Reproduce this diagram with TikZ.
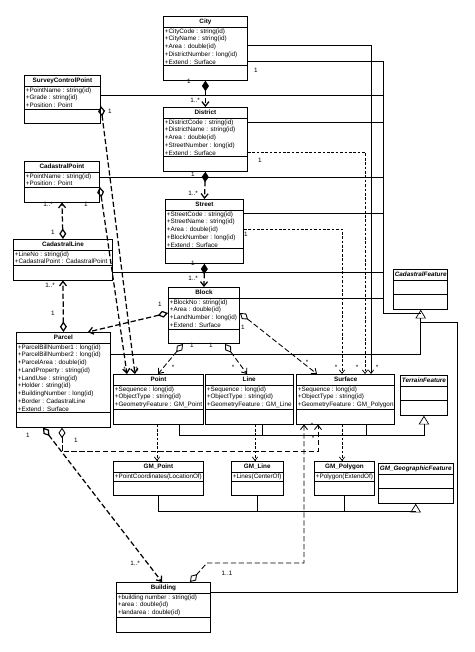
\documentclass[tikz,border=0pt]{standalone}
\usepackage{fontspec}
\setmainfont{Liberation Sans}
\usetikzlibrary{shapes.multipart,arrows.meta}

\newcommand{\clsname}[1]{\strut\textbf{#1}}
\newcommand{\absname}[1]{\strut\textbf{\textit{#1}}}

\begin{document}
\begin{tikzpicture}[x=0.02cm, y=-0.02cm,
    every node/.style={font=\fontsize{3.6}{4.4}\selectfont},
    class node/.style={rectangle split, rectangle split parts=3, draw, fill=white,
      line width=0.5pt, anchor=north west, align=left,
      rectangle split part align={center,left,left},
      inner xsep=0.8pt, inner ysep=0.6pt, minimum width=#1*0.02cm,
      rectangle split empty part height=3.1pt, rectangle split empty part depth=1.3pt},
    mult/.style={inner sep=0pt},
    comp/.style={line width=0.7pt, dash pattern=on 3pt off 1.5pt,
      {Diamond[length=6pt,width=4pt]}-{Straight Barb[length=2.5pt,width=4pt]}},
    aggr/.style={line width=0.7pt, dash pattern=on 3pt off 1.5pt,
      {Diamond[open,length=6pt,width=4pt]}-{Straight Barb[length=2.5pt,width=4pt]}},
    dep/.style={line width=0.4pt, dash pattern=on 1.5pt off 1pt,
      -{Straight Barb[length=2pt,width=3pt]}},
    assoc/.style={line width=0.4pt, -{Straight Barb[length=2pt,width=3pt]}},
    gen/.style={line width=0.4pt},
    super/.style={-{Triangle[open,length=5pt,width=6pt]}}]

  \useasboundingbox (0,0) rectangle (474,652);

  % classes of the cadastre
  \node[class node=84] (City) at (163,16) {\clsname{City}\nodepart{two}+CityCode : string(id)\\+CityName : string(id)\\+Area : double(id)\\+DistrictNumber : long(id)\\+Extend : Surface};
  \node[class node=84] (District) at (163,107) {\clsname{District}\nodepart{two}+DistrictCode : string(id)\\+DistrictName : string(id)\\+Area : double(id)\\+StreetNumber : long(id)\\+Extend : Surface};
  \node[class node=78] (Street) at (165,199) {\clsname{Street}\nodepart{two}+StreetCode : string(id)\\+StreetName : string(id)\\+Area : double(id)\\+BlockNumber : long(id)\\+Extend : Surface};
  \node[class node=71] (Block) at (168,287) {\clsname{Block}\nodepart{two}+BlockNo : string(id)\\+Area : double(id)\\+LandNumber : long(id)\\+Extend : Surface};
  \node[class node=76] (SurveyControlPoint) at (24,75) {\clsname{SurveyControlPoint}\nodepart{two}+PointName : string(id)\\+Grade : string(id)\\+Position : Point};
  \node[class node=75] (CadastralPoint) at (24,161) {\clsname{CadastralPoint}\nodepart{two}+PointName : string(id)\\+Position : Point};
  \node[class node=99] (CadastralLine) at (13,239) {\clsname{CadastralLine}\nodepart{two}+LineNo : string(id)\\+CadastralPoint : CadastralPoint};
  \node[class node=94] (Parcel) at (16,332) {\clsname{Parcel}\nodepart{two}+ParcelBillNumber1 : long(id)\\+ParcelBillNumber2 : long(id)\\+ParcelArea : double(id)\\+LandProperty : string(id)\\+LandUse : string(id)\\+Holder : string(id)\\+BuildingNumber : long(id)\\+Border : CadastralLine\\+Extend : Surface};
  \node[class node=94] (Building) at (116,582) {\clsname{Building}\nodepart{two}+building number : string(id)\\+area : double(id)\\+landarea : double(id)};

  % terrain objects
  \node[class node=89] (Point) at (113,374) {\clsname{Point}\nodepart{two}+Sequence : long(id)\\+ObjectType : string(id)\\+GeometryFeature : GM\_Point};
  \node[class node=65] (Line) at (205,374) {\clsname{Line}\nodepart{two}+Sequence : long(id)\\+ObjectType : string(id)\\+GeometryFeature : GM\_Line};
  \node[class node=93] (Surface) at (296,374) {\clsname{Surface}\nodepart{two}+Sequence : long(id)\\+ObjectType : string(id)\\+GeometryFeature : GM\_Polygon};

  % geometry
  \node[class node=90] (GMPoint) at (113,461) {\clsname{GM\_Point}\nodepart{two}+PointCoordinates(LocationOf)};
  \node[class node=49] (GMLine) at (231,461) {\clsname{GM\_Line}\nodepart{two}+Lines(CenterOf)};
  \node[class node=57] (GMPolygon) at (314,461) {\clsname{GM\_Polygon}\nodepart{two}+Polygon(ExtendOf)};

  % abstract classes
  \node[class node=54] (CadastralFeature) at (393,269) {\absname{CadastralFeature}};
  \node[class node=47] (TerrainFeature) at (400,375) {\absname{TerrainFeature}};
  \node[class node=69] (GMFeature) at (378,463) {\absname{GM\_GeographicFeature}};

  \coordinate (cfTrunk) at (383,313);
  \coordinate (cfRight) at (457,322);
  \coordinate (tfBus) at (0,435);
  \coordinate (gmBus) at (0,511);

  % generalisation
  \draw[gen] (City.east |- 0,61) -| (cfTrunk) -- (CadastralFeature.south |- cfTrunk);
  \draw[gen] (SurveyControlPoint.east |- 0,95) -- (cfTrunk |- 0,95);
  \draw[gen] (District.east |- 0,122) -- (cfTrunk |- 0,122);
  \draw[gen] (CadastralPoint.east |- 0,177) -- (cfTrunk |- 0,177);
  \draw[gen] (Street.east |- 0,213) -- (cfTrunk |- 0,213);
  \draw[gen] (CadastralLine.east |- 0,272) -- (cfTrunk |- 0,272);
  \draw[gen] (Block.east |- 0,298) -- (cfTrunk |- 0,298);
  \draw[gen,super] (Parcel.east |- 0,354) -| (CadastralFeature.south);
  \draw[gen] (Building.east |- 0,592) -| (cfRight) -- (CadastralFeature.south |- cfRight);

  \draw[gen,super] (Point.south -| 179,0) |- (tfBus -| TerrainFeature.south) -- (TerrainFeature.south);
  \draw[gen] (Line.south -| 262,0) -- (tfBus -| 262,0);
  \draw[gen] (Surface.south -| 366,0) -- (tfBus -| 366,0);

  \draw[gen,super] (GMPoint.south) |- (gmBus -| GMFeature.south) -- (GMFeature.south);
  \draw[gen] (GMLine.south) -- (gmBus -| GMLine.south);
  \draw[gen] (GMPolygon.south) -- (gmBus -| GMPolygon.south);

  % composition
  \draw[comp] (City.south) -- (District.north);
  \draw[comp] (District.south) -- (Street.north);
  \draw[comp] (Street.south) -- (Block.north);

  % aggregation
  \draw[aggr] (CadastralLine.north) -- (CadastralPoint.south);
  \draw[aggr] (Parcel.north) -- (CadastralLine.south);
  \draw[aggr] (Block.west |- 0,313) -- (Parcel.north -| 88,0);
  \draw[aggr,line width=0.5pt] (Block.south -| 183,0) -- (Point.north -| 158,0);
  \draw[aggr,line width=0.5pt] (Block.south -| 225,0) -- (Line.north -| 247,0);
  \draw[aggr,line width=0.5pt] (Block.east |- 0,313) -- (Surface.north -| 317,0);
  \draw[aggr] (SurveyControlPoint.east |- 0,106) -- (Point.north -| 135,0);
  \draw[aggr] (CadastralPoint.east |- 0,187) -- (Point.north -| 127,0);
  \draw[aggr] (Parcel.south -| 43,0) -- (Building.north -| 162,0);
  \draw[aggr,line width=0.5pt] (Parcel.south -| 62,0) -- ++(0,24) -| (Surface.south -| 318,0);
  \draw[aggr,line width=0.5pt] (Building.north -| 190,0) -- ++(17,-19) -| (Surface.south -| 304,0);

  % dependencies
  \draw[assoc] (City.east |- 0,45) -| (Surface.north -| 371,0);
  \draw[dep] (District.east |- 0,152) -| (Surface.north -| 365,0);
  \draw[dep] (Street.east |- 0,229) -| (Surface.north -| 342,0);
  \draw[dep] (Point.south -| 157,0) -- (GMPoint.north -| 157,0);
  \draw[dep] (Line.south -| 255,0) -- (GMLine.north -| 255,0);
  \draw[dep] (Surface.south -| 342,0) -- (GMPolygon.north -| 342,0);

  % multiplicities
  \node[mult] (m1) at (189,81) {1};
  \node[mult] (m2) at (195,100) {1..*};
  \node[mult] (m3) at (193,174) {1};
  \node[mult] (m4) at (193,193) {1..*};
  \node[mult] (m5) at (193,263) {1};
  \node[mult] (m6) at (193,278) {1..*};
  \node[mult] (m7) at (256,70) {1};
  \node[mult] (m8) at (260,160) {1};
  \node[mult] (m9) at (246,234) {1};
  \node[mult] (m10) at (110,111) {1};
  \node[mult] (m11) at (48,204) {1..*};
  \node[mult] (m12) at (86,204) {1};
  \node[mult] (m13) at (53,232) {1};
  \node[mult] (m14) at (125,369) {1};
  \node[mult] (m15) at (137,369) {1};
  \node[mult] (m16) at (50,285) {1..*};
  \node[mult] (m17) at (53,313) {1};
  \node[mult] (m18) at (160,304) {1};
  \node[mult] (m19) at (192,345) {1};
  \node[mult] (m20) at (173,367) {*};
  \node[mult] (m21) at (211,345) {1};
  \node[mult] (m22) at (233,367) {*};
  \node[mult] (m23) at (243,327) {1};
  \node[mult] (m24) at (307,362) {*};
  \node[mult] (m25) at (336,367) {*};
  \node[mult] (m26) at (357,367) {*};
  \node[mult] (m27) at (377,367) {*};
  \node[mult] (m28) at (28,435) {1};
  \node[mult] (m29) at (135,563) {1..*};
  \node[mult] (m30) at (76,440) {1};
  \node[mult] (m31) at (312,425) {*};
  \node[mult] (m32) at (313,438) {*};
  \node[mult] (m33) at (227,573) {1..1};

\end{tikzpicture}
\end{document}
